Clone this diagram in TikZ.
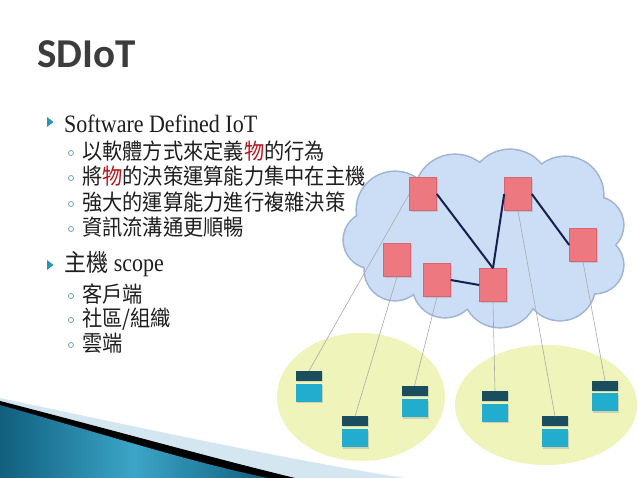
\documentclass[tikz,border=0pt]{standalone}
\usepackage{fontspec}
\usetikzlibrary{shadows}
\newfontfamily\cjk{Noto Sans CJK TC}[FakeStretch=0.92]
\newfontfamily\serifx{Liberation Serif}[FakeStretch=0.88]
\newfontfamily\titlefont{Carlito}
\definecolor{titlec}{RGB}{60,60,60}
\definecolor{txtc}{RGB}{30,30,30}
\definecolor{wred}{RGB}{185,20,30}
\definecolor{bulc}{RGB}{40,150,180}
\definecolor{subc}{RGB}{110,160,185}
\definecolor{cloudfill}{RGB}{204,221,246}
\definecolor{cloudedge}{RGB}{160,180,215}
\definecolor{sqfill}{RGB}{238,120,128}
\definecolor{sqedge}{RGB}{215,100,110}
\definecolor{navy}{RGB}{22,32,80}
\definecolor{wirec}{RGB}{170,170,170}
\definecolor{yell}{RGB}{239,244,186}
\definecolor{devbarc}{RGB}{26,78,94}
\definecolor{devboxc}{RGB}{34,172,206}
\definecolor{swblue}{RGB}{212,230,240}
\definecolor{tealA}{RGB}{16,95,125}
\definecolor{tealB}{RGB}{60,165,200}
\tikzset{
  sq/.style={rectangle, fill=sqfill, draw=sqedge, line width=0.6pt, minimum width=27pt, minimum height=33pt, inner sep=0pt, drop shadow={shadow xshift=1pt, shadow yshift=-1.2pt, opacity=0.25}},
  devbar/.style={rectangle, fill=devbarc, minimum width=26pt, minimum height=10pt, inner sep=0pt, drop shadow={shadow xshift=1pt, shadow yshift=-1pt, opacity=0.25}},
  devbox/.style={rectangle, fill=devboxc, minimum width=26pt, minimum height=18pt, inner sep=0pt, drop shadow={shadow xshift=1.2pt, shadow yshift=-1.2pt, opacity=0.3}},
  link/.style={draw=navy, line width=2pt},
  wire/.style={draw=wirec, line width=0.6pt},
  subb/.style={circle, draw=subc, line width=0.8pt, minimum size=5pt, inner sep=0pt},
  zh/.style={anchor=base west, inner sep=0pt, text=txtc, font=\cjk\fontsize{22}{22}\selectfont},
}
\def\cloudpath{(485,240) ellipse [x radius=112, y radius=62]
  (395,210) circle [radius=38] (455,195) circle [radius=40] (510,190) circle [radius=40]
  (565,195) circle [radius=38] (595,225) circle [radius=28] (595,265) circle [radius=28]
  (560,285) circle [radius=35] (500,290) circle [radius=37] (445,285) circle [radius=32]
  (395,270) circle [radius=30] (372,240) circle [radius=28]}
\begin{document}
\begin{tikzpicture}[x=1pt,y=-1pt]
\useasboundingbox (0,0) rectangle (638,478);
\fill[white] (0,0) rectangle (638,478);
% bottom swoosh
\fill[swblue] (0,398) .. controls (150,430) and (300,462) .. (405,478) -- (0,478) -- cycle;
\fill[black] (0,401) .. controls (120,432) and (220,460) .. (295,478) -- (0,478) -- cycle;
\shade[left color=tealA, right color=tealA, middle color=tealB] (0,405) .. controls (110,436) and (190,462) .. (268,478) -- (0,478) -- cycle;
% title
\node[anchor=base west, inner sep=0pt, text=titlec, font=\titlefont\bfseries\fontsize{41}{41}\selectfont] (title) at (37,68) {SDIoT};
% ellipses
\fill[yell] (361,397) ellipse [x radius=84, y radius=64];
\fill[yell] (546,405) ellipse [x radius=91, y radius=60];
% cloud
\draw[cloudedge, line width=3.2pt] \cloudpath;
\fill[cloudfill] \cloudpath;
% squares
\node[sq] (A) at (423,194) {};
\node[sq] (B) at (518,194) {};
\node[sq] (C) at (583,245) {};
\node[sq] (D) at (397,260) {};
\node[sq] (E) at (437,280) {};
\node[sq] (F) at (493,285) {};
% devices
\node[devbox] (k1) at (309,393) {};   \node[devbar] (b1) at (309,376) {};
\node[devbox] (k2) at (355,438.5) {}; \node[devbar] (b2) at (355,421.5) {};
\node[devbox] (k3) at (414.5,408.5) {}; \node[devbar] (b3) at (414.5,391) {};
\node[devbox] (k4) at (495,413) {};   \node[devbar] (b4) at (495,396) {};
\node[devbox] (k5) at (555,438.5) {}; \node[devbar] (b5) at (555,421.5) {};
\node[devbox] (k6) at (605,402.5) {}; \node[devbar] (b6) at (605,386) {};
% thin wires
\draw[wire] (A.west) -- (b1.north);
\draw[wire] (D.south) -- (b2.north);
\draw[wire] (E.south) -- (b3.north);
\draw[wire] (F.south) -- (b4.north);
\draw[wire] (B.south) -- (b5.north);
\draw[wire] (C.south) -- (b6.north);
% navy links
\draw[link] (A.east) -- (F.north);
\draw[link] (B.west) -- (F.north);
\draw[link] (B.east) -- (C.west);
\draw[link] (E.east) -- (F.west);
% bullets
\fill[bulc] (47,117) -- (53.5,122) -- (47,127) -- cycle;
\fill[bulc] (47,260) -- (53.5,265) -- (47,270) -- cycle;
\node[anchor=base west, inner sep=0pt, text=txtc, font=\serifx\fontsize{25}{25}\selectfont] (l0) at (64,133) {Software Defined IoT};
\node[subb] (s1) at (71,153) {};
\node[zh] (l1) at (82,160) {以軟體方式來定義\textcolor{wred}{物}的行為};
\node[subb] (s2) at (71,178) {};
\node[zh] (l2) at (82,185) {將\textcolor{wred}{物}的決策運算能力集中在主機};
\node[subb] (s3) at (71,204) {};
\node[zh] (l3) at (82,211) {強大的運算能力進行複雜決策};
\node[subb] (s4) at (71,229) {};
\node[zh] (l4) at (82,236) {資訊流溝通更順暢};
\node[anchor=base west, inner sep=0pt, text=txtc] (l5) at (64,272) {{\cjk\fontsize{24}{24}\selectfont 主機}{\serifx\fontsize{25}{25}\selectfont\ scope}};
\node[subb] (s5) at (71,296) {};
\node[zh] (l6) at (82,303) {客戶端};
\node[subb] (s6) at (71,320) {};
\node[zh] (l7) at (82,327) {社區/組織};
\node[subb] (s7) at (71,345) {};
\node[zh] (l8) at (82,352) {雲端};
\end{tikzpicture}
\end{document}
